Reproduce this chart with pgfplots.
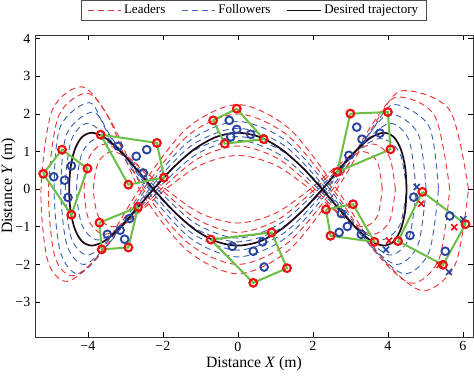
\documentclass[border=0pt]{standalone}
\usepackage{pgfplots}
\pgfplotsset{compat=1.18}
\usepackage{fontspec}
\setmainfont{Liberation Serif}
\definecolor{ldr}{RGB}{232,52,52}
\definecolor{flw}{RGB}{62,100,178}
\definecolor{rc}{RGB}{238,16,16}
\definecolor{bc}{RGB}{40,68,160}
\definecolor{grn}{RGB}{108,190,68}
\definecolor{traj}{RGB}{30,10,25}
\begin{document}
\begin{tikzpicture}
\begin{axis}[
  name=ax,
  scale only axis,
  width=328.5pt, height=226.5pt,
  xmin=-5.41, xmax=6.27, ymin=-3.93, ymax=4.10,
  xtick={-4,-2,0,2,4,6}, xticklabels={−4,−2,0,2,4,6},
  ytick={-3,-2,-1,0,1,2,3,4}, yticklabels={−3,−2,−1,0,1,2,3,4},
  tick align=inside, xtick pos=both, ytick pos=both,
  major tick length=3.5pt,
  tick style={black, line width=0.5pt},
  axis line style={black!80, line width=0.6pt},
  ticklabel style={font=\fontsize{10.5}{12}\selectfont},
  xlabel={Distance \textit{X} (m)},
  ylabel={Distance \textit{Y} (m)},
  label style={font=\fontsize{11.8}{14}\selectfont},
  xlabel style={yshift=3pt},
  ylabel shift=-7pt,
  legend columns=3,
  legend style={at={(0.5,1)}, anchor=south, yshift=10.5pt, draw=black!70, line width=0.5pt,
    font=\fontsize{9.8}{12}\selectfont, inner xsep=4pt, inner ysep=1.5pt,
    /tikz/every even column/.append style={column sep=10pt}},
  legend image code/.code={\draw[#1] (0pt,0pt) -- (25pt,0pt);},
  legend cell align=left,
]
% ---------- leaders' paths (red dashed)
\addplot[ldr, line width=0.7pt, dash pattern=on 4.5pt off 3pt, smooth] coordinates {
(6.15,0) (5.65,2.1) (4.4,2.62) (3.75,1.9) (2.639,0) (1.359,-1.619) (0,-2.25) (-1.359,-1.619)
(-2.625,0) (-3.45,1.9) (-4.15,2.72) (-4.95,2.1) (-5.25,0) (-5.071,-1.9) (-4.547,-2.45) (-3.712,-1.75)
(-2.625,0) (-1.359,1.619) (0,2.25) (1.359,1.619) (2.639,0) (3.825,-1.803) (4.925,-2.70) (5.802,-1.987) (6.15,0)};
\addlegendentry{Leaders}
% ---------- followers' paths (blue dashed)
\addplot[flw, line width=0.7pt, dash pattern=on 4.5pt off 3pt, smooth] coordinates {
(5.35,0) (5.098,1.669) (4.15,2.25) (3.521,1.485) (2.457,0) (1.268,-1.301) (0,-1.8) (-1.268,-1.301)
(-2.45,0) (-3.465,1.485) (-3.95,2.3) (-4.733,1.669) (-4.9,0) (-4.733,-1.669) (-4.243,-2.25) (-3.465,-1.485)
(-2.45,0) (-1.268,1.301) (0,1.8) (1.268,1.301) (2.457,0) (3.521,-1.485) (4.432,-2.25) (5.098,-1.669) (5.35,0)};
\addlegendentry{Followers}
\addplot[forget plot, ldr, line width=0.7pt, dash pattern=on 4.5pt off 3pt, smooth] coordinates {
(5.65,0) (5.25,1.95) (4.25,2.45) (3.6,1.75) (2.534,0) (1.307,-1.446) (0,-2.0) (-1.307,-1.446)
(-2.525,0) (-3.35,1.75) (-4.0,2.55) (-4.78,1.95) (-5.05,0) (-4.878,-1.8) (-4.373,-2.3) (-3.571,-1.6)
(-2.525,0) (-1.307,1.446) (0,2.0) (1.307,1.446) (2.534,0) (3.646,-1.650) (4.625,-2.5) (5.365,-1.854) (5.65,0)};
\addplot[forget plot, ldr, line width=0.7pt, dash pattern=on 4.5pt off 3pt, smooth] coordinates {
(4.2,0) (4.041,0.858) (3.593,1.2) (2.912,0.837) (2.052,0) (1.061,-0.816) (0,-1.15) (-1.061,-0.816)
(-2.05,0) (-2.899,0.837) (-3.551,1.2) (-3.960,0.858) (-4.1,0) (-3.960,-0.858) (-3.551,-1.2) (-2.899,-0.837)
(-2.05,0) (-1.061,0.816) (0,1.15) (1.061,0.816) (2.052,0) (2.912,-0.837) (3.593,-1.2) (4.041,-0.858) (4.2,0)};
\addplot[forget plot, ldr, line width=0.7pt, dash pattern=on 4.5pt off 3pt, smooth] coordinates {
(3.85,0) (3.719,0.724) (3.334,1.0) (2.722,0.684) (1.925,0) (0.996,-0.643) (0,-0.9) (-0.996,-0.643)
(-1.925,0) (-2.722,0.684) (-3.334,1.0) (-3.719,0.724) (-3.85,0) (-3.719,-0.724) (-3.334,-1.0) (-2.722,-0.684)
(-1.925,0) (-0.996,0.643) (0,0.9) (0.996,0.643) (1.925,0) (2.722,-0.684) (3.334,-1.0) (3.719,-0.724) (3.85,0)};
\addplot[forget plot, flw, line width=0.7pt, dash pattern=on 4.5pt off 3pt, smooth] coordinates {
(5.02,0) (4.803,1.480) (4.05,2.0) (3.376,1.325) (2.365,0) (1.222,-1.170) (0,-1.62) (-1.222,-1.170)
(-2.36,0) (-3.338,1.325) (-3.85,2.05) (-4.559,1.480) (-4.72,0) (-4.559,-1.480) (-4.088,-2.0) (-3.338,-1.325)
(-2.36,0) (-1.222,1.170) (0,1.62) (1.222,1.170) (2.365,0) (3.376,-1.325) (4.214,-2.0) (4.803,-1.480) (5.02,0)};
\addplot[forget plot, flw, line width=0.7pt, dash pattern=on 4.5pt off 3pt, smooth] coordinates {
(4.75,0) (4.565,1.298) (4.047,1.75) (3.272,1.155) (2.302,0) (1.190,-1.012) (0,-1.4) (-1.190,-1.012)
(-2.3,0) (-3.253,1.155) (-3.984,1.75) (-4.443,1.298) (-4.6,0) (-4.443,-1.298) (-3.984,-1.75) (-3.253,-1.155)
(-2.3,0) (-1.190,1.012) (0,1.4) (1.190,1.012) (2.302,0) (3.272,-1.155) (4.047,-1.75) (4.565,-1.298) (4.75,0)};
\addplot[forget plot, flw, line width=0.7pt, dash pattern=on 4.5pt off 3pt, smooth] coordinates {
(4.5,0) (4.315,0.964) (3.808,1.35) (3.066,0.943) (2.153,0) (1.113,-0.922) (0,-1.3) (-1.113,-0.922)
(-2.15,0) (-3.041,0.943) (-3.724,1.35) (-4.153,0.964) (-4.3,0) (-4.153,-0.964) (-3.724,-1.35) (-3.041,-0.943)
(-2.15,0) (-1.113,0.922) (0,1.3) (1.113,0.922) (2.153,0) (3.066,-0.943) (3.808,-1.35) (4.315,-0.964) (4.5,0)};
% ---------- desired trajectory
\addplot[traj, line width=1.3pt, smooth] coordinates {
(4.5,0) (4.4615,0.574) (4.3467,1.0607) (4.1575,1.3858) (3.8971,1.5) (3.5701,1.3858) (3.1820,1.0607) (2.7394,0.574)
(2.25,0) (1.7221,-0.574) (1.1647,-1.0607) (0.5874,-1.3858) (0,-1.5) (-0.5874,-1.3858) (-1.1647,-1.0607) (-1.7221,-0.574)
(-2.25,0) (-2.7394,0.574) (-3.1820,1.0607) (-3.5701,1.3858) (-3.8971,1.5) (-4.1575,1.3858) (-4.3467,1.0607) (-4.4615,0.574)
(-4.5,0) (-4.4615,-0.574) (-4.3467,-1.0607) (-4.1575,-1.3858) (-3.8971,-1.5) (-3.5701,-1.3858) (-3.1820,-1.0607) (-2.7394,-0.574)
(-2.25,0) (-1.7221,0.574) (-1.1647,1.0607) (-0.5874,1.3858) (0,1.5) (0.5874,1.3858) (1.1647,1.0607) (1.7221,0.574)
(2.25,0) (2.7394,-0.574) (3.1820,-1.0607) (3.5701,-1.3858) (3.8971,-1.5) (4.1575,-1.3858) (4.3467,-1.0607) (4.4615,-0.574) (4.5,0)};
\addlegendentry{Desired trajectory}
% ---------- formations (green)
\addplot[forget plot, grn, line width=1.5pt] coordinates {(-5.19,0.41) (-4.69,1.05) (-4.01,0.55) (-4.44,-0.68) (-5.19,0.41)};
\addplot[forget plot, grn, line width=1.5pt] coordinates {(-3.66,1.45) (-2.16,1.23) (-1.97,0.31) (-2.92,0.12) (-3.66,1.45)};
\addplot[forget plot, grn, line width=1.5pt] coordinates {(-2.66,-0.47) (-3.69,-0.89) (-3.63,-1.60) (-2.92,-1.55) (-2.66,-0.47)};
\addplot[forget plot, grn, line width=1.5pt] coordinates {(-0.66,1.83) (-0.03,2.14) (0.69,1.33) (-0.35,1.21) (-0.66,1.83)};
\addplot[forget plot, grn, line width=1.5pt] coordinates {(-0.72,-1.34) (0.90,-1.15) (1.31,-2.10) (0.41,-2.49) (-0.72,-1.34)};
\addplot[forget plot, grn, line width=1.5pt] coordinates {(3.00,2.01) (4.00,2.05) (4.07,1.06) (2.65,0.46) (3.00,2.01)};
\addplot[forget plot, grn, line width=1.5pt] coordinates {(2.35,-0.54) (3.07,-0.40) (3.64,-1.40) (2.47,-1.24) (2.35,-0.54)};
\addplot[forget plot, grn, line width=1.5pt] coordinates {(4.92,-0.07) (6.07,-0.93) (5.47,-2.01) (4.27,-1.38) (4.92,-0.07)};
% ---------- initial positions (crosses)
\addplot[forget plot, only marks, mark=x, mark size=3.2pt, rc, line width=1.2pt] coordinates {
(4.89,-0.39) (5.77,-1.01) (4.03,-1.37) (5.38,-2.01)};
\addplot[forget plot, only marks, mark=x, mark size=3.2pt, bc, line width=1.2pt] coordinates {
(3.95,-1.61) (6.01,-0.80) (5.63,-2.20) (4.77,0.06)};
% ---------- leaders (red circles)
\addplot[forget plot, only marks, mark=o, mark size=2.9pt, rc, line width=1.6pt, mark options={fill=white}] coordinates {
(-5.19,0.41) (-4.69,1.05) (-4.01,0.55) (-4.44,-0.68)
(-3.66,1.45) (-2.16,1.23) (-1.97,0.31) (-2.92,0.12)
(-2.66,-0.47) (-3.69,-0.89) (-3.63,-1.60) (-2.92,-1.55)
(-0.66,1.83) (-0.03,2.14) (0.69,1.33) (-0.35,1.21)
(-0.72,-1.34) (0.90,-1.15) (1.31,-2.10) (0.41,-2.49)
(3.00,2.01) (4.00,2.05) (4.07,1.06) (2.65,0.46)
(2.35,-0.54) (3.07,-0.40) (3.64,-1.40) (2.47,-1.24)
(4.92,-0.07) (6.07,-0.93) (5.47,-2.01) (4.27,-1.38)};
% ---------- followers (blue circles)
\addplot[forget plot, only marks, mark=o, mark size=2.9pt, bc, line width=1.4pt, mark options={fill=white}] coordinates {
(-4.91,0.33) (-4.62,0.24) (-4.44,0.62) (-4.53,-0.22)
(-3.19,1.14) (-2.71,0.875) (-2.43,1.05) (-2.52,0.43)
(-2.89,-0.78) (-3.48,-1.20) (-3.14,-1.09) (-3.02,-1.33)
(-0.23,1.83) (-0.03,1.59) (-0.19,1.39) (0.34,1.46)
(-0.15,-1.52) (0.66,-1.40) (0.41,-1.65) (0.70,-2.07)
(3.17,1.65) (3.31,1.33) (3.79,1.49) (2.96,0.90)
(2.76,-0.65) (2.92,-0.99) (2.70,-1.15) (3.29,-1.20)
(5.65,-0.71) (5.53,-1.65) (4.59,-1.23) (4.69,-0.21)};
\end{axis}
\pgfresetboundingbox
\path[use as bounding box] ([xshift=-26.25pt,yshift=-28.5pt]ax.south west) rectangle ([xshift=0.75pt,yshift=26.25pt]ax.north east);
\end{tikzpicture}
\end{document}
